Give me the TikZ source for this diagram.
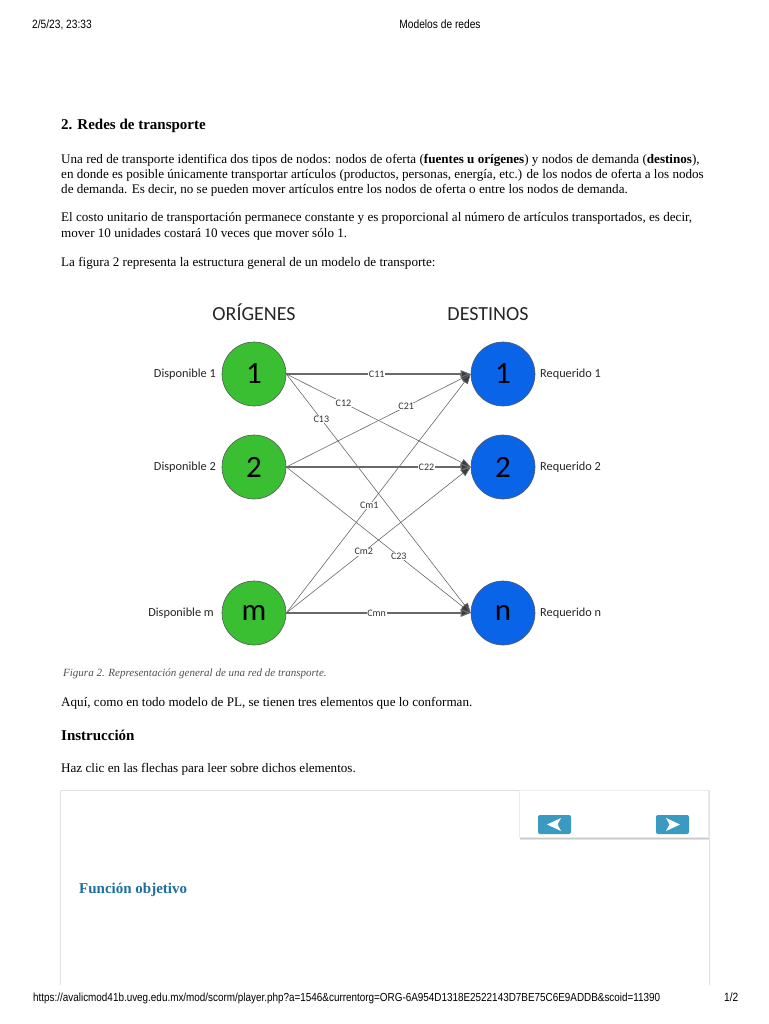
\documentclass[tikz,border=0pt]{standalone}
\usepackage{fontspec}
\setmainfont{Liberation Serif}
\newfontfamily\calfont{Carlito}
\newfontfamily\hdrfont[FakeStretch=0.85]{Liberation Sans}
\usetikzlibrary{arrows.meta}
\definecolor{ngreen}{RGB}{58,190,50}
\definecolor{nblue}{RGB}{10,100,232}
\definecolor{btnblue}{RGB}{58,154,194}
\definecolor{fblue}{RGB}{30,110,160}
\definecolor{edgegray}{RGB}{105,105,105}
\definecolor{tipgray}{RGB}{60,60,60}
\definecolor{capgray}{RGB}{80,80,80}
\definecolor{boxgray}{RGB}{225,225,225}
\begin{document}
\begin{tikzpicture}[x=1pt,y=-1pt,
  txt/.style={anchor=base west,inner sep=0pt,font=\fontsize{13.1}{15}\selectfont},
  hdr/.style={inner sep=0pt,font=\hdrfont\fontsize{12}{13}\selectfont},
  head/.style={anchor=base west,inner sep=0pt,font=\bfseries\fontsize{15}{17}\selectfont},
  orig/.style={circle,draw=black!65,line width=0.6pt,fill=ngreen,minimum size=64pt,inner sep=0pt,font=\calfont\fontsize{31}{32}\selectfont},
  dest/.style={circle,draw=black!65,line width=0.6pt,fill=nblue,minimum size=64pt,inner sep=0pt,font=\calfont\fontsize{31}{32}\selectfont},
  side/.style={inner sep=0pt,font=\calfont\fontsize{12.3}{13}\selectfont,text=black!85},
  ttl/.style={inner sep=0pt,anchor=base,font=\calfont\fontsize{20}{22}\selectfont,text=black!85},
  edge/.style={draw=edgegray,line width=0.6pt,-{Triangle[length=10pt,width=7.5pt,fill=tipgray]}},
  hedge/.style={draw=edgegray,line width=1.1pt,-{Triangle[length=10pt,width=7.5pt,fill=tipgray]}},
  elab/.style={fill=white,inner sep=0.6pt,font=\calfont\fontsize{10}{11}\selectfont,text=black!80},
  btn/.style={fill=btnblue,rounded corners=2pt,minimum width=33pt,minimum height=19pt,inner sep=0pt}
]
\useasboundingbox[fill=white] (0,0) rectangle (768,1024);

% header
\node[hdr,anchor=base west] (hdate) at (32,29) {2/5/23, 23:33};
\node[hdr,anchor=base] (htitle) at (440,29) {Modelos de redes};

% heading and text
\node[head] (h2) at (61,130) {2. Redes de transporte};
\node[txt] (p1a) at (61,164) {Una red de transporte identifica dos tipos de nodos: nodos de oferta (\textbf{fuentes u orígenes}) y nodos de demanda (\textbf{destinos}),};
\node[txt] (p1b) at (61,179) {en donde es posible únicamente transportar artículos (productos, personas, energía, etc.) de los nodos de oferta a los nodos};
\node[txt] (p1c) at (61,194) {de demanda. Es decir, no se pueden mover artículos entre los nodos de oferta o entre los nodos de demanda.};
\node[txt] (p2a) at (61,222) {El costo unitario de transportación permanece constante y es proporcional al número de artículos transportados, es decir,};
\node[txt] (p2b) at (61,237) {mover 10 unidades costará 10 veces que mover sólo 1.};
\node[txt] (p3) at (61,266) {La figura 2 representa la estructura general de un modelo de transporte:};

% diagram titles
\node[ttl] (tor) at (254,320) {ORÍGENES};
\node[ttl] (tde) at (488,320) {DESTINOS};

% nodes
\node[orig] (o1) at (254,374) {1};
\node[orig] (o2) at (254,467) {2};
\node[orig] (om) at (254,613) {m};
\node[dest] (d1) at (503,374) {1};
\node[dest] (d2) at (503,467) {2};
\node[dest] (dn) at (503,613) {n};

\node[side,anchor=east] (s1) at (216,374) {Disponible 1};
\node[side,anchor=east] (s2) at (216,467) {Disponible 2};
\node[side,anchor=east] (sm) at (214,613) {Disponible m};
\node[side,anchor=west] (r1) at (540,374) {Requerido 1};
\node[side,anchor=west] (r2) at (540,467) {Requerido 2};
\node[side,anchor=west] (rn) at (540,613) {Requerido n};

% edges
\draw[edge] (o1.east) -- node[elab,pos=0.31]{C12} (d2.west);
\draw[edge] (o1.east) -- node[elab,pos=0.19]{C13} (dn.west);
\draw[edge] (o2.east) -- node[elab,pos=0.65]{C21} (d1.west);
\draw[edge] (o2.east) -- node[elab,pos=0.61]{C23} (dn.west);
\draw[edge] (om.east) -- node[elab,pos=0.45]{Cm1} (d1.west);
\draw[edge] (om.east) -- node[elab,pos=0.42]{Cm2} (d2.west);
\draw[hedge] (o1.east) -- node[elab,pos=0.49]{C11} (d1.west);
\draw[hedge] (o2.east) -- node[elab,pos=0.76]{C22} (d2.west);
\draw[hedge] (om.east) -- node[elab,pos=0.49]{Cmn} (dn.west);

% caption and following text
\node[anchor=base west,inner sep=0pt,font=\itshape\fontsize{11}{12}\selectfont,text=capgray] (cap) at (63,676) {Figura 2. Representación general de una red de transporte.};
\node[txt] (aq) at (61,706) {Aquí, como en todo modelo de PL, se tienen tres elementos que lo conforman.};
\node[head] (ins) at (61,740) {Instrucción};
\node[txt] (haz) at (61,772) {Haz clic en las flechas para leer sobre dichos elementos.};

% box
\draw[boxgray,line width=1pt] (60.5,985) -- (60.5,790.5) -- (709,790.5) -- (709,985);
\fill[black!22] (519.5,836.5) rectangle (708.5,838.5);
\fill[black!10] (519.5,838.5) rectangle (708.5,840);
\draw[black!8,fill=white,line width=0.6pt] (519.5,790.5) rectangle (708.5,837);
\node[btn] (bl) at (554.5,824.5) {};
\node[btn] (br) at (672.5,824.5) {};
\fill[white] (547,824.5) -- (561,818) -- (557.5,824.5) -- (561,831) -- cycle;
\fill[white] (680,824.5) -- (666,818) -- (669.5,824.5) -- (666,831) -- cycle;
\node[anchor=base west,inner sep=0pt,font=\bfseries\fontsize{15}{17}\selectfont,text=fblue] (fo) at (79,893) {Función objetivo};

% footer
\node[hdr,anchor=base west,font=\hdrfont\fontsize{11.65}{13}\selectfont] (url) at (33,1001) {https://avalicmod41b.uveg.edu.mx/mod/scorm/player.php?a=1546\&currentorg=ORG-6A954D1318E2522143D7BE75C6E9ADDB\&scoid=11390};
\node[hdr,anchor=base west] (pg) at (724,1001) {1/2};
\end{tikzpicture}
\end{document}
